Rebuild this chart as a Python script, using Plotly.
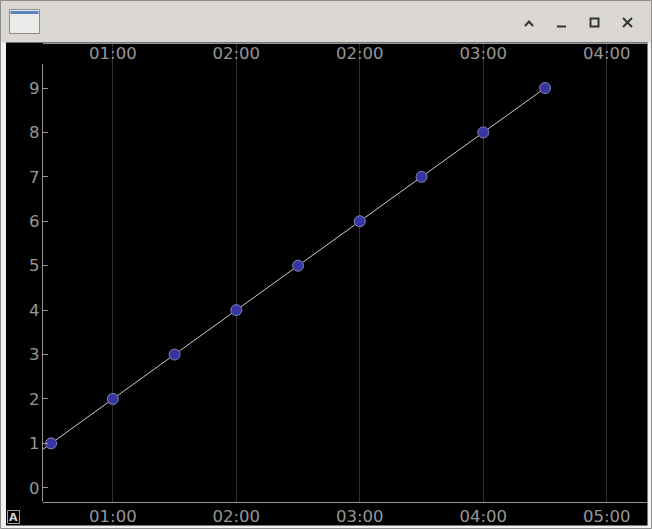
import plotly.graph_objects as go
import pandas as pd

# ---- data ----
hours = [0.0, 0.5, 1.0, 1.5, 2.0, 2.5, 3.0, 3.5, 4.0, 4.5]
values = [0, 1, 2, 3, 4, 5, 6, 7, 8, 9]
bottom_tick_hours = [1, 2, 3, 4, 5]
top_tick_hours = [1, 2, 3, 4, 5]
top_tick_labels = ["01:00", "02:00", "02:00", "03:00", "04:00"]
y_ticks = [0, 1, 2, 3, 4, 5, 6, 7, 8, 9]

base = pd.Timestamp("1970-01-01 00:00:00")
def t(h):
    return (base + pd.Timedelta(hours=h)).strftime("%Y-%m-%d %H:%M:%S.%f")

xs = [t(h) for h in hours]

W, H = 652, 529
def px(x):
    return x / W
def py(y):
    return 1 - y / H

AX = "#969696"
GRID = "#303030"
FONT = "DejaVu Sans"
FS = 16.5

fig = go.Figure()
fig.add_trace(go.Scatter(
    x=xs, y=values, mode="lines+markers",
    line=dict(color="white", width=0.8),
    marker=dict(size=11, color="#3636a2", line=dict(color="#8484b4", width=1)),
    hoverinfo="skip", showlegend=False,
))

xr = [t(0.4302), t(5.330)]

shapes = []
shapes.append(dict(type="rect", xref="paper", yref="paper", x0=px(0), x1=px(W), y0=py(H), y1=py(0),
                   fillcolor="#f2f2f2", line=dict(width=0), layer="below"))
shapes.append(dict(type="rect", xref="paper", yref="paper", x0=px(0), x1=px(W), y0=py(42.5), y1=py(0),
                   fillcolor="#dad7d3", line=dict(width=0), layer="below"))
shapes.append(dict(type="rect", xref="paper", yref="paper", x0=px(6), x1=px(647.5), y0=py(525.5), y1=py(42.5),
                   fillcolor="black", line=dict(width=0), layer="below"))
shapes.append(dict(type="rect", xref="paper", yref="paper", x0=px(0.5), x1=px(651.5), y0=py(528.5), y1=py(0.5),
                   fillcolor="rgba(0,0,0,0)", line=dict(color="#8e8e8e", width=1), layer="above"))
shapes.append(dict(type="rect", xref="paper", yref="paper", x0=px(9.5), x1=px(39.5), y0=py(33.5), y1=py(9.5),
                   fillcolor="#e8ebe8", line=dict(color="#8c8c8c", width=1), layer="above"))
shapes.append(dict(type="rect", xref="paper", yref="paper", x0=px(10.5), x1=px(38.5), y0=py(14), y1=py(11),
                   fillcolor="#5a82bd", line=dict(width=0), layer="above"))
BTN = "#2e3436"
shapes.append(dict(type="path", xref="paper", yref="paper",
                   path=f"M {px(525)},{py(26)} L {px(529)},{py(21.5)} L {px(533)},{py(26)}",
                   line=dict(color=BTN, width=2), layer="above"))
shapes.append(dict(type="line", xref="paper", yref="paper", x0=px(557), x1=px(566), y0=py(26.5), y1=py(26.5),
                   line=dict(color=BTN, width=2), layer="above"))
shapes.append(dict(type="rect", xref="paper", yref="paper", x0=px(590.5), x1=px(598.5), y0=py(26.5), y1=py(18.5),
                   fillcolor="rgba(0,0,0,0)", line=dict(color=BTN, width=2), layer="above"))
shapes.append(dict(type="line", xref="paper", yref="paper", x0=px(623), x1=px(632), y0=py(18), y1=py(27),
                   line=dict(color=BTN, width=2), layer="above"))
shapes.append(dict(type="line", xref="paper", yref="paper", x0=px(623), x1=px(632), y0=py(27), y1=py(18),
                   line=dict(color=BTN, width=2), layer="above"))
shapes.append(dict(type="line", xref="paper", yref="paper", x0=px(42.5), x1=px(42.5), y0=py(501.5), y1=py(64),
                   line=dict(color=AX, width=1), layer="above"))
shapes.append(dict(type="rect", xref="paper", yref="paper", x0=px(7.5), x1=px(19.5), y0=py(523.5), y1=py(510.5),
                   fillcolor="rgba(0,0,0,0)", line=dict(color="#a0a0a0", width=1), layer="above"))

fig.update_layout(
    width=W, height=H, autosize=False,
    margin=dict(l=0, r=0, t=0, b=0, pad=0),
    paper_bgcolor="#f2f2f2", plot_bgcolor="black",
    font=dict(family=FONT, size=FS, color=AX),
    shapes=shapes,
    annotations=[dict(text="<b>A</b>", x=px(13.5), y=py(517), xref="paper", yref="paper", showarrow=False,
                      font=dict(family=FONT, size=11, color="#d8d8d8"), xanchor="center", yanchor="middle")],
    xaxis=dict(
        type="date", domain=[px(42.5), px(647.5)], range=xr,
        tickmode="array", tickvals=[t(h) for h in bottom_tick_hours], tickformat="%H:%M",
        showgrid=True, gridcolor=GRID, gridwidth=1,
        showline=True, linecolor=AX, linewidth=1, ticks="", zeroline=False,
        tickfont=dict(family=FONT, size=FS, color=AX),
        anchor="y",
    ),
    xaxis2=dict(
        type="date", overlaying="x", matches="x", side="top", anchor="y",
        tickmode="array", tickvals=[t(h) for h in top_tick_hours], ticktext=top_tick_labels,
        showgrid=False, showline=True, linecolor=AX, linewidth=1, ticks="",
        ticklabelposition="inside", ticklabelstandoff=4, zeroline=False,
        tickfont=dict(family=FONT, size=FS, color=AX),
    ),
    yaxis=dict(
        domain=[py(501.5), py(44)], range=[-0.3088, 9.991],
        tickmode="array", tickvals=y_ticks,
        showgrid=False, showline=False, zeroline=False,
        ticks="inside", ticklen=5, tickcolor=AX, tickwidth=1,
        ticklabelstandoff=2,
        tickfont=dict(family=FONT, size=FS, color=AX),
    ),
)

fig.add_trace(go.Scatter(x=[xs[0]], y=[values[0]], xaxis="x2", yaxis="y", mode="markers",
                         marker=dict(opacity=0), hoverinfo="skip", showlegend=False))

fig.write_html("out.html", config={"displayModeBar": False},
               post_script="document.body.style.margin='0px';document.body.style.overflow='hidden';")
